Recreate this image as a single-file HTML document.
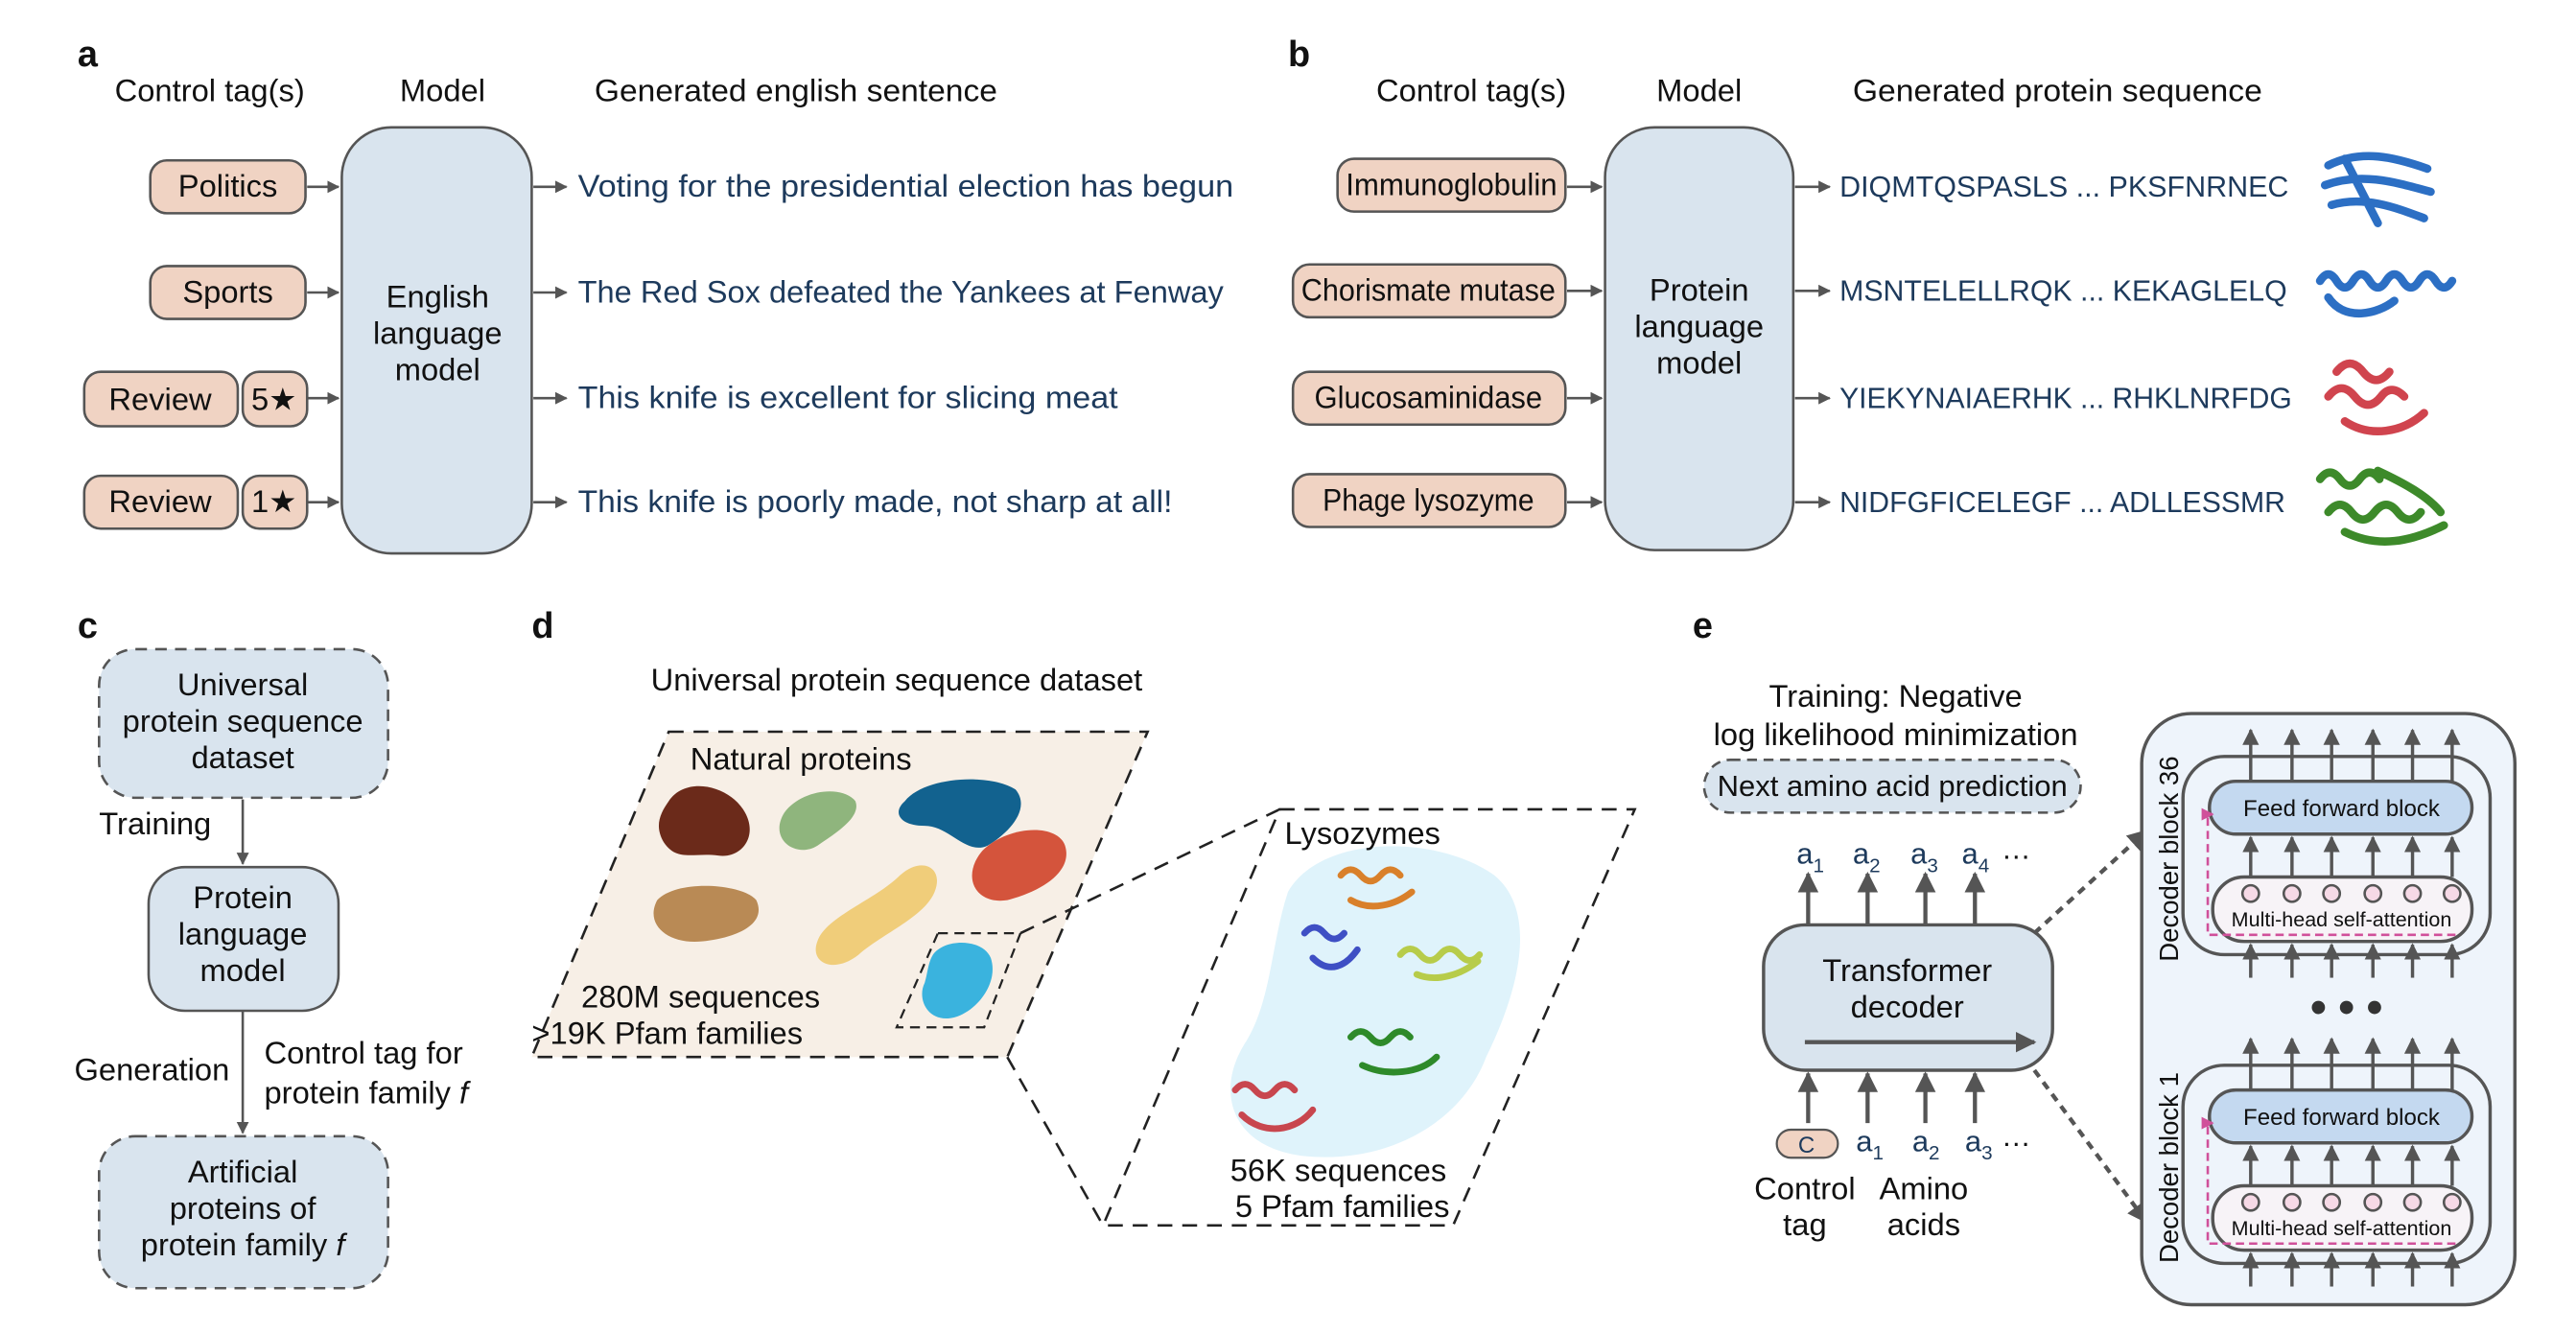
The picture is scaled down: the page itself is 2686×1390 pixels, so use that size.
<!DOCTYPE html>
<html><head><meta charset="utf-8"><style>
html,body{margin:0;padding:0;background:#fff}
svg{display:block}
text{font-family:"Liberation Sans",sans-serif}
</style></head><body>
<svg width="2686" height="1390" viewBox="0 0 1560 807" xmlns="http://www.w3.org/2000/svg">
<defs>
<marker id="ar" viewBox="0 0 10 10" refX="9" refY="5" markerWidth="5" markerHeight="5" orient="auto"><path d="M0,0 L10,5 L0,10 z" fill="#555"/></marker>
<marker id="arp" viewBox="0 0 10 10" refX="9" refY="5" markerWidth="5" markerHeight="5" orient="auto"><path d="M0,0 L10,5 L0,10 z" fill="#d0509a"/></marker>
</defs>
<g font-size="19" fill="#111">
<!-- Panel a -->
<text x="47" y="40" font-size="22" font-weight="bold">a</text>
<text x="127" y="61" text-anchor="middle">Control tag(s)</text>
<text x="268" y="61" text-anchor="middle">Model</text>
<text x="360" y="61" textLength="244" lengthAdjust="spacingAndGlyphs">Generated english sentence</text>
<rect x="207" y="77" width="115" height="258" rx="30" fill="#d9e4ee" stroke="#555" stroke-width="1.5"/>
<text x="265" y="186" text-anchor="middle">English</text>
<text x="265" y="208" text-anchor="middle">language</text>
<text x="265" y="230" text-anchor="middle">model</text>
<g fill="#f0d3c3" stroke="#555" stroke-width="1.5">
<rect x="91" y="97" width="94" height="32" rx="10"/>
<rect x="91" y="161" width="94" height="32" rx="10"/>
<rect x="51" y="225" width="93" height="33" rx="10"/>
<rect x="147" y="225" width="39" height="33" rx="10"/>
<rect x="51" y="288" width="93" height="32" rx="10"/>
<rect x="147" y="288" width="39" height="32" rx="10"/>
</g>
<text x="138" y="119" text-anchor="middle">Politics</text>
<text x="138" y="183" text-anchor="middle">Sports</text>
<text x="97" y="248" text-anchor="middle">Review</text>
<text x="166" y="248" text-anchor="middle">5★</text>
<text x="97" y="310" text-anchor="middle">Review</text>
<text x="166" y="310" text-anchor="middle">1★</text>
<g stroke="#555" stroke-width="1.5" marker-end="url(#ar)">
<line x1="186" y1="113" x2="205" y2="113"/><line x1="186" y1="177" x2="205" y2="177"/>
<line x1="186" y1="241" x2="205" y2="241"/><line x1="186" y1="304" x2="205" y2="304"/>
<line x1="323" y1="113" x2="343" y2="113"/><line x1="323" y1="177" x2="343" y2="177"/>
<line x1="323" y1="241" x2="343" y2="241"/><line x1="323" y1="304" x2="343" y2="304"/>
</g>
<g fill="#1d3a5c">
<text x="350" y="119" textLength="397" lengthAdjust="spacingAndGlyphs">Voting for the presidential election has begun</text>
<text x="350" y="183" textLength="391" lengthAdjust="spacingAndGlyphs">The Red Sox defeated the Yankees at Fenway</text>
<text x="350" y="247" textLength="327" lengthAdjust="spacingAndGlyphs">This knife is excellent for slicing meat</text>
<text x="350" y="310" textLength="360" lengthAdjust="spacingAndGlyphs">This knife is poorly made, not sharp at all!</text>
</g>

<!-- Panel b -->
<text x="780" y="40" font-size="22" font-weight="bold">b</text>
<text x="891" y="61" text-anchor="middle">Control tag(s)</text>
<text x="1029" y="61" text-anchor="middle">Model</text>
<text x="1122" y="61" textLength="248" lengthAdjust="spacingAndGlyphs">Generated protein sequence</text>
<rect x="972" y="77" width="114" height="256" rx="30" fill="#d9e4ee" stroke="#555" stroke-width="1.5"/>
<text x="1029" y="182" text-anchor="middle">Protein</text>
<text x="1029" y="204" text-anchor="middle">language</text>
<text x="1029" y="226" text-anchor="middle">model</text>
<g fill="#f0d3c3" stroke="#555" stroke-width="1.5">
<rect x="810" y="96" width="138" height="32" rx="10"/>
<rect x="783" y="160" width="165" height="32" rx="10"/>
<rect x="783" y="225" width="165" height="32" rx="10"/>
<rect x="783" y="287" width="165" height="32" rx="10"/>
</g>
<text x="879" y="118" text-anchor="middle" textLength="128" lengthAdjust="spacingAndGlyphs">Immunoglobulin</text>
<text x="865" y="182" text-anchor="middle" textLength="154" lengthAdjust="spacingAndGlyphs">Chorismate mutase</text>
<text x="865" y="247" text-anchor="middle" textLength="138" lengthAdjust="spacingAndGlyphs">Glucosaminidase</text>
<text x="865" y="309" text-anchor="middle" textLength="128" lengthAdjust="spacingAndGlyphs">Phage lysozyme</text>
<g stroke="#555" stroke-width="1.5" marker-end="url(#ar)">
<line x1="949" y1="113" x2="970" y2="113"/><line x1="949" y1="176" x2="970" y2="176"/>
<line x1="949" y1="241" x2="970" y2="241"/><line x1="949" y1="304" x2="970" y2="304"/>
<line x1="1087" y1="113" x2="1108" y2="113"/><line x1="1087" y1="176" x2="1108" y2="176"/>
<line x1="1087" y1="241" x2="1108" y2="241"/><line x1="1087" y1="304" x2="1108" y2="304"/>
</g>
<g fill="#1d3a5c" font-size="18">
<text x="1114" y="119" textLength="272" lengthAdjust="spacingAndGlyphs">DIQMTQSPASLS ... PKSFNRNEC</text>
<text x="1114" y="182" textLength="271" lengthAdjust="spacingAndGlyphs">MSNTELELLRQK ... KEKAGLELQ</text>
<text x="1114" y="247" textLength="274" lengthAdjust="spacingAndGlyphs">YIEKYNAIAERHK ... RHKLNRFDG</text>
<text x="1114" y="310" textLength="270" lengthAdjust="spacingAndGlyphs">NIDFGFICELEGF ... ADLLESSMR</text>
</g>
<!-- protein icons -->
<g fill="none" stroke-linecap="round">
<path d="M1410,100 C1430,90 1450,95 1470,102 M1408,112 C1430,104 1450,110 1472,116 M1412,124 C1432,118 1452,126 1468,132 M1420,96 L1440,135" stroke="#2c6fc4" stroke-width="5"/>
<path d="M1405,170 q5,-8 10,0 q5,8 10,0 q5,-8 10,0 q5,8 10,0 q5,-8 10,0 q5,8 10,0 q5,-8 10,0 q5,8 10,0 M1410,180 C1420,195 1440,190 1450,182" stroke="#2c6fc4" stroke-width="5"/>
<path d="M1415,225 q8,-10 16,0 q8,10 16,0 M1410,240 q8,-10 16,0 q8,10 16,0 q6,-8 14,0 M1420,255 C1435,265 1455,262 1468,250" stroke="#d0444e" stroke-width="5"/>
<path d="M1405,290 q6,-8 12,0 q6,8 12,0 q6,-8 12,0 M1410,310 q7,-9 14,0 q7,9 14,0 q7,-9 14,0 q7,9 14,0 M1420,322 C1440,332 1460,328 1480,318 M1440,285 C1455,292 1470,300 1478,310" stroke="#3d8a2a" stroke-width="5"/>
</g>

<!-- Panel c -->
<text x="47" y="386" font-size="22" font-weight="bold">c</text>
<rect x="60" y="393" width="175" height="90" rx="22" fill="#d9e4ee" stroke="#555" stroke-width="1.5" stroke-dasharray="7,5"/>
<text x="147" y="421" text-anchor="middle">Universal</text>
<text x="147" y="443" text-anchor="middle">protein sequence</text>
<text x="147" y="465" text-anchor="middle">dataset</text>
<text x="60" y="505">Training</text>
<line x1="147" y1="484" x2="147" y2="523" stroke="#555" stroke-width="1.5" marker-end="url(#ar)"/>
<rect x="90" y="525" width="115" height="87" rx="22" fill="#d9e4ee" stroke="#555" stroke-width="1.5"/>
<text x="147" y="550" text-anchor="middle">Protein</text>
<text x="147" y="572" text-anchor="middle">language</text>
<text x="147" y="594" text-anchor="middle">model</text>
<line x1="147" y1="612" x2="147" y2="686" stroke="#555" stroke-width="1.5" marker-end="url(#ar)"/>
<text x="45" y="654">Generation</text>
<text x="160" y="644">Control tag for</text>
<text x="160" y="668">protein family <tspan font-style="italic">f</tspan></text>
<rect x="60" y="688" width="175" height="92" rx="22" fill="#d9e4ee" stroke="#555" stroke-width="1.5" stroke-dasharray="7,5"/>
<text x="147" y="716" text-anchor="middle">Artificial</text>
<text x="147" y="738" text-anchor="middle">proteins of</text>
<text x="147" y="760" text-anchor="middle">protein family <tspan font-style="italic">f</tspan></text>

<!-- Panel d -->
<text x="322" y="386" font-size="22" font-weight="bold">d</text>
<text x="543" y="418" text-anchor="middle">Universal protein sequence dataset</text>
<polygon points="405,443 695,443 610,640 322,640" fill="#f7efe6" stroke="#222" stroke-width="1.5" stroke-dasharray="9,6"/>
<text x="418" y="466">Natural proteins</text>
<path d="M405,485 C415,470 440,475 450,490 C460,505 450,520 435,518 C420,516 410,522 402,510 C396,500 400,492 405,485Z" fill="#6b2a1a"/>
<path d="M475,492 C485,478 510,475 518,485 C522,495 505,505 495,512 C482,520 465,508 475,492Z" fill="#8fb57d"/>
<path d="M548,485 C560,470 600,468 615,478 C625,490 610,505 598,512 C585,518 575,500 560,500 C545,500 540,492 548,485Z" fill="#12628f"/>
<path d="M595,515 C610,500 640,498 645,512 C650,528 630,540 610,545 C590,548 582,530 595,515Z" fill="#d4543c"/>
<path d="M398,545 C410,532 450,535 458,545 C465,560 445,568 425,570 C405,572 390,560 398,545Z" fill="#b98a55"/>
<path d="M495,570 C500,555 530,545 545,530 C558,518 572,525 566,540 C560,555 535,565 520,578 C505,590 490,583 495,570Z" fill="#f0cd7a"/>
<path d="M565,578 C572,568 595,568 600,580 C605,595 592,612 578,616 C562,620 555,605 560,595 C562,588 562,583 565,578Z" fill="#3ab3de"/>
<polygon points="568,565 618,565 596,622 543,622" fill="none" stroke="#222" stroke-width="1.3" stroke-dasharray="6,4"/>
<line x1="618" y1="565" x2="775" y2="490" stroke="#222" stroke-width="1.5" stroke-dasharray="9,6"/>
<line x1="610" y1="640" x2="668" y2="742" stroke="#222" stroke-width="1.5" stroke-dasharray="9,6"/>
<text x="352" y="610">280M sequences</text>
<text x="322" y="632">&gt;19K Pfam families</text>
<polygon points="775,490 990,490 880,742 668,742" fill="#fff" stroke="#222" stroke-width="1.5" stroke-dasharray="9,6"/>
<path d="M780,540 C800,505 870,505 905,530 C935,555 915,610 900,640 C885,680 840,705 790,700 C745,695 735,660 755,630 C770,605 770,570 780,540Z" fill="#dff3fb"/>
<text x="778" y="511">Lysozymes</text>
<g fill="none" stroke-width="4" stroke-linecap="round">
<path d="M812,530 q6,-7 12,0 q6,7 12,0 q6,-7 12,0 M818,545 C830,552 845,548 855,540" stroke="#d9802a"/>
<path d="M790,565 q6,-7 12,0 q6,7 12,0 M795,580 C805,590 815,585 822,575" stroke="#3e4fc4"/>
<path d="M848,578 q6,-7 12,0 q6,7 12,0 q6,-7 12,0 q6,7 12,0 M858,590 C870,595 885,590 895,582" stroke="#b7cc4a"/>
<path d="M818,628 q6,-7 12,0 q6,7 12,0 q6,-7 12,0 M825,645 C840,652 860,650 870,640" stroke="#2e8a2a"/>
<path d="M748,660 q6,-7 12,0 q6,7 12,0 q6,-7 12,0 M752,675 C765,688 785,685 795,672" stroke="#c8464e"/>
</g>
<text x="745" y="715">56K sequences</text>
<text x="748" y="737">5 Pfam families</text>

<!-- Panel e -->
<text x="1025" y="386" font-size="22" font-weight="bold">e</text>
<text x="1148" y="428" text-anchor="middle">Training: Negative</text>
<text x="1148" y="451" text-anchor="middle">log likelihood minimization</text>
<rect x="1032" y="460" width="228" height="32" rx="16" fill="#d9e4ee" stroke="#555" stroke-width="1.5" stroke-dasharray="6,4"/>
<text x="1146" y="482" text-anchor="middle" font-size="18">Next amino acid prediction</text>
<g fill="#1d3a5c" font-size="18">
<text x="1088" y="523">a<tspan font-size="12" dy="5">1</tspan></text>
<text x="1122" y="523">a<tspan font-size="12" dy="5">2</tspan></text>
<text x="1157" y="523">a<tspan font-size="12" dy="5">3</tspan></text>
<text x="1188" y="523">a<tspan font-size="12" dy="5">4</tspan></text>
<text x="1212" y="520" fill="#111">…</text>
<text x="1124" y="697">a<tspan font-size="12" dy="5">1</tspan></text>
<text x="1158" y="697">a<tspan font-size="12" dy="5">2</tspan></text>
<text x="1190" y="697">a<tspan font-size="12" dy="5">3</tspan></text>
<text x="1212" y="694" fill="#111">…</text>
</g>
<g stroke="#555" stroke-width="2.5" marker-end="url(#ar)">
<line x1="1095" y1="560" x2="1095" y2="529"/><line x1="1131" y1="560" x2="1131" y2="529"/>
<line x1="1166" y1="560" x2="1166" y2="529"/><line x1="1196" y1="560" x2="1196" y2="529"/>
<line x1="1095" y1="680" x2="1095" y2="650"/><line x1="1131" y1="680" x2="1131" y2="650"/>
<line x1="1166" y1="680" x2="1166" y2="650"/><line x1="1196" y1="680" x2="1196" y2="650"/>
</g>
<rect x="1068" y="560" width="175" height="88" rx="25" fill="#d9e4ee" stroke="#555" stroke-width="2"/>
<text x="1155" y="594" text-anchor="middle">Transformer</text>
<text x="1155" y="616" text-anchor="middle">decoder</text>
<line x1="1093" y1="631" x2="1232" y2="631" stroke="#555" stroke-width="2.5" marker-end="url(#ar)"/>
<rect x="1076" y="684" width="37" height="17" rx="8.5" fill="#f0d3c3" stroke="#555" stroke-width="1.3"/>
<text x="1094" y="698" text-anchor="middle" font-size="14" fill="#1d3a5c">C</text>
<text x="1093" y="726" text-anchor="middle">Control</text>
<text x="1093" y="748" text-anchor="middle">tag</text>
<text x="1165" y="726" text-anchor="middle">Amino</text>
<text x="1165" y="748" text-anchor="middle">acids</text>
<g stroke="#555" stroke-width="2.5" stroke-dasharray="5,4" marker-end="url(#ar)">
<line x1="1232" y1="565" x2="1300" y2="503"/>
<line x1="1232" y1="648" x2="1300" y2="740"/>
</g>
<rect x="1297" y="432" width="226" height="358" rx="30" fill="#eef4fb" stroke="#555" stroke-width="2"/>
<!-- block 36 -->
<g id="blk">
<rect x="1322" y="458" width="186" height="120" rx="25" fill="#eef4fb" stroke="#555" stroke-width="2"/>
<rect x="1338" y="473" width="159" height="32" rx="16" fill="#c4d9f0" stroke="#555" stroke-width="2"/>
<text x="1418" y="494" text-anchor="middle" font-size="14">Feed forward block</text>
<rect x="1340" y="531" width="157" height="39" rx="19" fill="#f7f3f7" stroke="#555" stroke-width="2"/>
<g fill="#f6d9e6" stroke="#555" stroke-width="1.5">
<circle cx="1363" cy="541" r="5"/><circle cx="1388" cy="541" r="5"/><circle cx="1412" cy="541" r="5"/>
<circle cx="1437" cy="541" r="5"/><circle cx="1461" cy="541" r="5"/><circle cx="1485" cy="541" r="5"/>
</g>
<text x="1418" y="561" text-anchor="middle" font-size="12.5">Multi-head self-attention</text>
<g stroke="#555" stroke-width="2" marker-end="url(#ar)">
<line x1="1363" y1="592" x2="1363" y2="572"/><line x1="1388" y1="592" x2="1388" y2="572"/><line x1="1412" y1="592" x2="1412" y2="572"/>
<line x1="1437" y1="592" x2="1437" y2="572"/><line x1="1461" y1="592" x2="1461" y2="572"/><line x1="1485" y1="592" x2="1485" y2="572"/>
<line x1="1363" y1="531" x2="1363" y2="507"/><line x1="1388" y1="531" x2="1388" y2="507"/><line x1="1412" y1="531" x2="1412" y2="507"/>
<line x1="1437" y1="531" x2="1437" y2="507"/><line x1="1461" y1="531" x2="1461" y2="507"/><line x1="1485" y1="531" x2="1485" y2="507"/>
<line x1="1363" y1="473" x2="1363" y2="442"/><line x1="1388" y1="473" x2="1388" y2="442"/><line x1="1412" y1="473" x2="1412" y2="442"/>
<line x1="1437" y1="473" x2="1437" y2="442"/><line x1="1461" y1="473" x2="1461" y2="442"/><line x1="1485" y1="473" x2="1485" y2="442"/>
</g>
<path d="M1487,566 L1337,566 L1337,493 L1340,493" fill="none" stroke="#d0509a" stroke-width="1.5" stroke-dasharray="5,3" marker-end="url(#arp)"/>
</g>
<use href="#blk" transform="translate(0,187)"/>
<text transform="translate(1319,520) rotate(-90)" text-anchor="middle" font-size="16">Decoder block 36</text>
<text transform="translate(1319,707) rotate(-90)" text-anchor="middle" font-size="16">Decoder block 1</text>
<g fill="#333"><circle cx="1404" cy="610" r="4"/><circle cx="1421" cy="610" r="4"/><circle cx="1438" cy="610" r="4"/></g>
</g>
</svg>
</body></html>
